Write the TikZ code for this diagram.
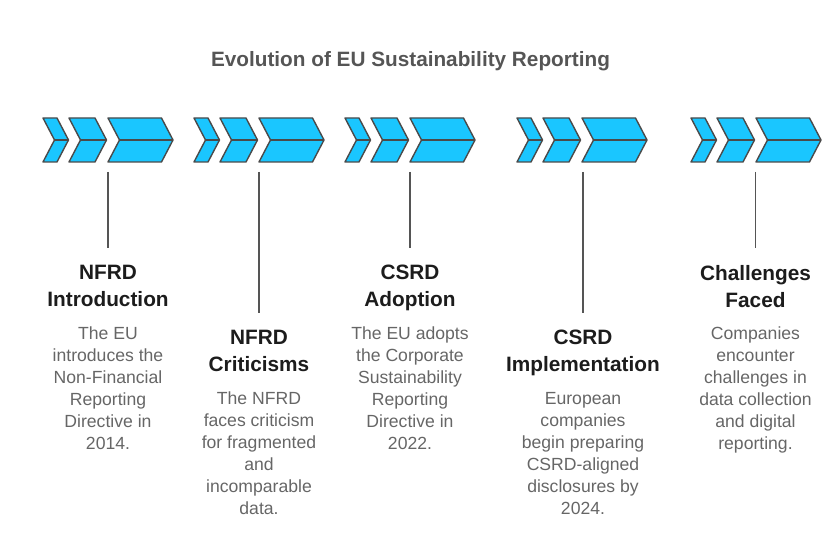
\documentclass[tikz,border=0pt]{standalone}
\usepackage{fontspec}
\setmainfont{Liberation Sans}
\usetikzlibrary{calc}

\definecolor{chevfill}{HTML}{1AC6FF}
\definecolor{chevline}{HTML}{4A4A4A}
\definecolor{stemgray}{HTML}{555555}
\definecolor{titlegray}{HTML}{555555}
\definecolor{headblack}{HTML}{1C1C1C}
\definecolor{bodygray}{HTML}{666666}

\begin{document}
\begin{tikzpicture}[x=1pt,y=-1pt]

\tikzset{
  chevron/.style={fill=chevfill, draw=chevline, line width=1.4pt, line join=round},
  stem/.style={draw=stemgray, line width=1.4pt},
  headtext/.style={font=\fontsize{20.8}{27}\selectfont\bfseries, text=headblack,
    align=center, anchor=north, inner sep=0pt},
  bodytext/.style={font=\fontsize{17.6}{22}\selectfont, text=bodygray,
    align=center, anchor=north, inner sep=0pt}
}

\useasboundingbox (0,0) rectangle (840,534);

% Title
\node[font=\fontsize{20.75}{25}\selectfont\bfseries, text=titlegray, anchor=base, inner sep=0pt]
  (title) at (410.5,66.7) {Evolution of EU Sustainability Reporting};

% Chevron groups (3 chevrons each)
\foreach \gx in {43,194,345,517,691}{
  \foreach \cl/\cw in {0/14,26/26,65/53.5}{
    \draw[chevron] (\gx+\cl,118) -- ++(\cw,0) -- ++(11.5,22) -- ++(-11.5,22)
      -- ++(-\cw,0) -- ++(11.5,-22) -- cycle;
    \draw[chevron, fill=none] (\gx+\cl+11.5,140) -- ++(\cw,0);
  }
}

% Stems
\coordinate (s1) at (108,172);   \coordinate (e1) at (108,248);
\coordinate (s2) at (259,172);   \coordinate (e2) at (259,313);
\coordinate (s3) at (410,172);   \coordinate (e3) at (410,248);
\coordinate (s4) at (583,172);   \coordinate (e4) at (583,313);
\coordinate (s5) at (755.5,172); \coordinate (e5) at (755.5,248);
\foreach \i in {1,...,5}{
  \draw[stem] (s\i) -- (e\i);
}

% Column 1
\node[headtext] (h1) at (108,265) {NFRD\\Introduction};
\node[bodytext] (b1) at (108,327) {The EU\\introduces the\\Non-Financial\\Reporting\\Directive in\\2014.};

% Column 2
\node[headtext] (h2) at (259,330) {NFRD\\Criticisms};
\node[bodytext] (b2) at (259,392) {The NFRD\\faces criticism\\for fragmented\\and\\incomparable\\data.};

% Column 3
\node[headtext] (h3) at (410,265) {CSRD\\Adoption};
\node[bodytext] (b3) at (410,327) {The EU adopts\\the Corporate\\Sustainability\\Reporting\\Directive in\\2022.};

% Column 4
\node[headtext] (h4) at (583,330) {CSRD\\Implementation};
\node[bodytext] (b4) at (583,392) {European\\companies\\begin preparing\\CSRD-aligned\\disclosures by\\2024.};

% Column 5
\node[headtext] (h5) at (755.5,265) {Challenges\\Faced};
\node[bodytext] (b5) at (755.5,327) {Companies\\encounter\\challenges in\\data collection\\and digital\\reporting.};

\end{tikzpicture}
\end{document}
